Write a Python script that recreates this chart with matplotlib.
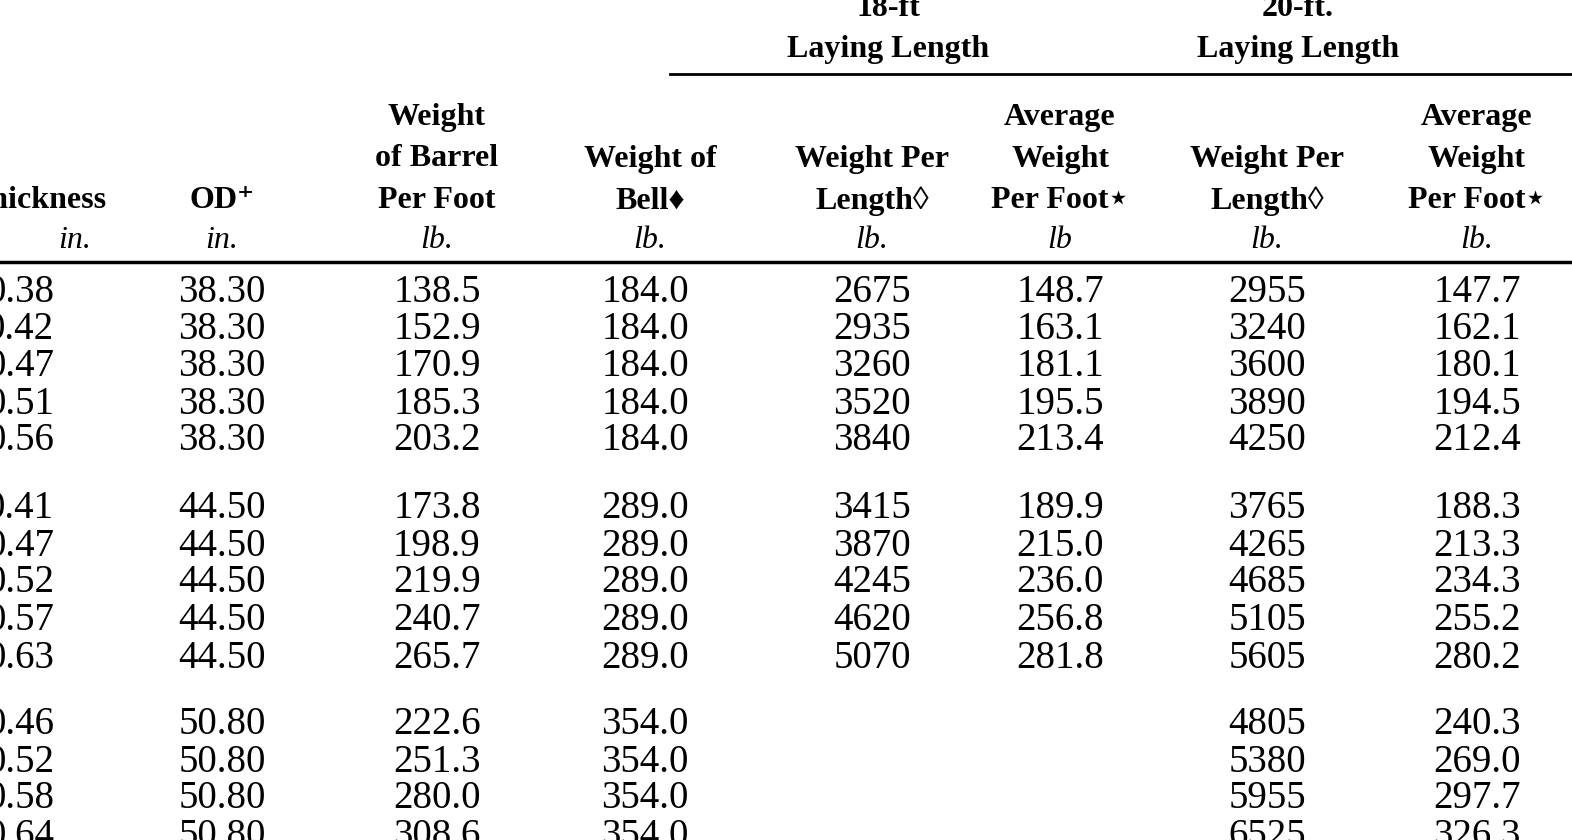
import matplotlib.pyplot as plt
from matplotlib.lines import Line2D

# table values, one list per column (blank where no 18-ft data)
thickness = ["0.38", "0.42", "0.47", "0.51", "0.56",
             "0.41", "0.47", "0.52", "0.57", "0.63",
             "0.46", "0.52", "0.58", "0.64"]
od = ["38.30"] * 5 + ["44.50"] * 5 + ["50.80"] * 4
barrel = ["138.5", "152.9", "170.9", "185.3", "203.2",
          "173.8", "198.9", "219.9", "240.7", "265.7",
          "222.6", "251.3", "280.0", "308.6"]
bell = ["184.0"] * 5 + ["289.0"] * 5 + ["354.0"] * 4
len18 = ["2675", "2935", "3260", "3520", "3840",
         "3415", "3870", "4245", "4620", "5070",
         "", "", "", ""]
avg18 = ["148.7", "163.1", "181.1", "195.5", "213.4",
         "189.9", "215.0", "236.0", "256.8", "281.8",
         "", "", "", ""]
len20 = ["2955", "3240", "3600", "3890", "4250",
         "3765", "4265", "4685", "5105", "5605",
         "4805", "5380", "5955", "6525"]
avg20 = ["147.7", "162.1", "180.1", "194.5", "212.4",
         "188.3", "213.3", "234.3", "255.2", "280.2",
         "240.3", "269.0", "297.7", "326.3"]

W, H = 1572, 840
fig = plt.figure(figsize=(W / 100, H / 100), dpi=100)
fam = ["Liberation Serif", "DejaVu Serif", "DejaVu Sans"]


def txt(x, y, s, **kw):
    fig.text(x / W, 1 - y / H, s, family=fam, va="center", **kw)


# column centres in pixels
xs = [20, 222, 437, 645, 872, 1060, 1267, 1477]
row_y = [292, 330, 367, 404, 441, 509, 546, 583, 621, 658, 725, 762, 799, 836]
cols = [thickness, od, barrel, bell, len18, avg18, len20, avg20]

for x, col in zip(xs, cols):
    for y, v in zip(row_y, col):
        txt(x, y, v, ha="center", fontsize=28)

# spanning headers
hb = dict(fontsize=23, fontweight="bold", ha="center")
txt(888, 8, "18-ft", **hb)
txt(888, 49, "Laying Length", **hb)
txt(1298, 8, "20-ft.", **hb)
txt(1298, 49, "Laying Length", **hb)

# column headers
headers = [
    ["Thickness"],
    ["OD⁺"],
    ["Weight", "of Barrel", "Per Foot"],
    ["Weight of", "Bell♦"],
    ["Weight Per", "Length◊"],
    ["Average", "Weight", "Per Foot⋆"],
    ["Weight Per", "Length◊"],
    ["Average", "Weight", "Per Foot⋆"],
]
units = ["in.", "in.", "lb.", "lb.", "lb.", "lb", "lb.", "lb."]
unit_x = [75, 222, 437, 650, 872, 1060, 1267, 1477]
head_y = [117, 159, 201]
for i, lines in enumerate(headers):
    ys = head_y[-len(lines):]
    for y, s in zip(ys, lines):
        if i == 0:
            txt(107, y, s, fontsize=23, fontweight="bold", ha="right")
        else:
            txt(xs[i] + (5 if i == 3 else 0), y, s, **hb)
    txt(unit_x[i], 240, units[i], fontsize=23, style="italic", ha="center")

# rules
fig.add_artist(Line2D([670 / W, 1], [1 - 74 / H] * 2, color="black", lw=2))
fig.add_artist(Line2D([0, 1], [1 - 262 / H] * 2, color="black", lw=2.5))

fig.savefig("out.png", dpi=100, facecolor="white")
